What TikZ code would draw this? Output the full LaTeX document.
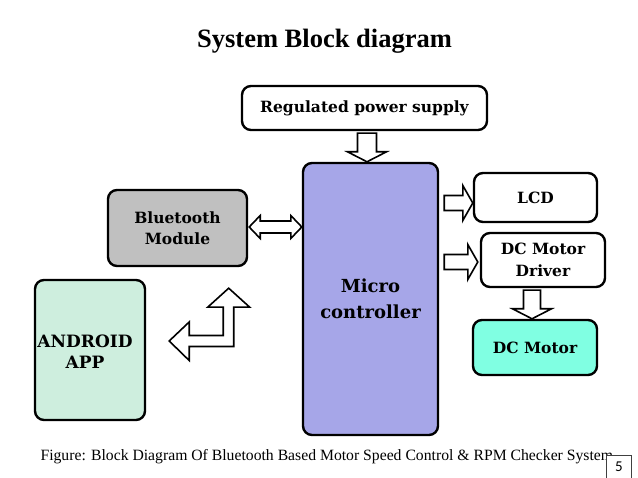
\documentclass[tikz,border=0pt]{standalone}
\usepackage{fontspec}
\setmainfont{Liberation Serif}
\newfontfamily\carl{Carlito}
\newfontfamily\boxfont{DejaVu Serif}
\usetikzlibrary{calc}
\definecolor{microc}{RGB}{166,166,232}
\definecolor{btc}{RGB}{192,192,192}
\definecolor{andc}{RGB}{206,238,222}
\definecolor{motc}{RGB}{128,255,226}
\tikzset{
  blk/.style={draw=black, line width=2.4pt, rounded corners=9pt, align=center,
     font=\boxfont\bfseries\fontsize{15.5}{21.5}\selectfont, inner sep=0pt},
  arrowsty/.style={draw=black, fill=white, line width=1.6pt, line join=miter},
}
\newcommand{\blockarr}[5]{%
  \coordinate (ba-h) at ($(#2)!#5!(#1)$);
  \draw[arrowsty] ($(#1)!#3!90:(#2)$) -- ($(ba-h)!#3!90:(#2)$) -- ($(ba-h)!#4!90:(#2)$) -- (#2)
     -- ($(ba-h)!#4!-90:(#2)$) -- ($(ba-h)!#3!-90:(#2)$) -- ($(#1)!#3!-90:(#2)$) -- cycle;}
\newcommand{\dblockarr}[5]{%
  \coordinate (bb-a) at ($(#1)!#5!(#2)$);
  \coordinate (bb-b) at ($(#2)!#5!(#1)$);
  \draw[arrowsty] (#1) -- ($(bb-a)!#4!90:(#2)$) -- ($(bb-a)!#3!90:(#2)$) -- ($(bb-b)!#3!90:(#2)$) -- ($(bb-b)!#4!90:(#2)$) -- (#2)
     -- ($(bb-b)!#4!-90:(#2)$) -- ($(bb-b)!#3!-90:(#2)$) -- ($(bb-a)!#3!-90:(#2)$) -- ($(bb-a)!#4!-90:(#2)$) -- cycle;}
\begin{document}
\begin{tikzpicture}[x=1pt,y=-1pt]
\useasboundingbox[fill=white] (0,0) rectangle (638,478);
\node[font=\bfseries\fontsize{26.5}{30}\selectfont] (title) at (324.5,41) {System Block diagram};

\node[blk, minimum width=245pt, minimum height=44pt] (power) at (364.5,108) {Regulated power supply};
\node[blk, fill=microc, minimum width=135pt, minimum height=272pt, font=\boxfont\bfseries\fontsize{18}{26}\selectfont] (micro) at (370.5,299) {Micro\\controller};
\node[blk, fill=btc, minimum width=139pt, minimum height=76pt] (bt) at (177.5,228) {Bluetooth\\Module};
\node[blk, fill=andc, minimum width=110pt, minimum height=140pt, text width=110pt] (app) at (90,350) {};
\node[font=\boxfont\bfseries\fontsize{17}{21.5}\selectfont, align=center, inner sep=0pt] (apptxt) at ($(app.center)+(-5,1.5)$) {ANDROID\\APP};
\node[blk, minimum width=123pt, minimum height=49pt] (lcd) at (535.5,197.5) {LCD};
\node[blk, minimum width=124pt, minimum height=54pt] (drv) at (543,260) {DC Motor\\Driver};
\node[blk, fill=motc, minimum width=124pt, minimum height=55pt] (mot) at (535,347.5) {DC Motor};

% power -> micro
\coordinate (p1) at ($(power.south)+(2.5,2)$);
\coordinate (p2) at (p1 |- micro.north);
\blockarr{p1}{p2}{9.5pt}{19.5pt}{10pt}
% bt <-> micro
\coordinate (b1) at ($(bt.east)+(1,-1)$);
\coordinate (b2) at (b1 -| micro.west);
\dblockarr{b1}{b2}{6pt}{11.5pt}{11pt}
% micro -> lcd
\coordinate (l1) at ($(micro.east |- lcd.west)+(5,5.5)$);
\coordinate (l2) at (l1 -| lcd.west);
\blockarr{l1}{l2}{7.5pt}{17.5pt}{10pt}
% micro -> driver
\coordinate (d1) at ($(micro.east |- drv.west)+(5,2)$);
\coordinate (d2) at ($(d1 -| drv.west)+(-2,0)$);
\blockarr{d1}{d2}{7.5pt}{17.5pt}{10pt}
% driver -> motor
\coordinate (m1) at ($(drv.south)+(-11,2)$);
\coordinate (m2) at (m1 |- mot.north);
\blockarr{m1}{m2}{8.5pt}{19.5pt}{10pt}
% android <-> bt bent arrow
\coordinate (up) at ($(bt.south east)+(-19.5,21)$);
\coordinate (lt) at ($(app.east)+(23,-9)$);
\draw[arrowsty] (up) -- ++(21,19) -- ++(-16,0) |- ($(lt)+(20,5.5)$) -- ++(0,14) -- (lt) -- ++(20,-19) -- ++(0,13.5) -| ($(up)+(-5.5,19)$) -- ++(-15.5,0) -- cycle;

\node[font=\fontsize{15.7}{17}\selectfont, anchor=west] (cap) at (37,457) {Figure: Block Diagram Of Bluetooth Based Motor Speed Control \& RPM Checker System};
\node[draw=black!75, line width=1pt, fill=white, minimum width=25pt, minimum height=23pt, inner sep=0pt, font=\carl\fontsize{15}{16}\selectfont] (pg) at (619,467) {5};
\end{tikzpicture}
\end{document}
